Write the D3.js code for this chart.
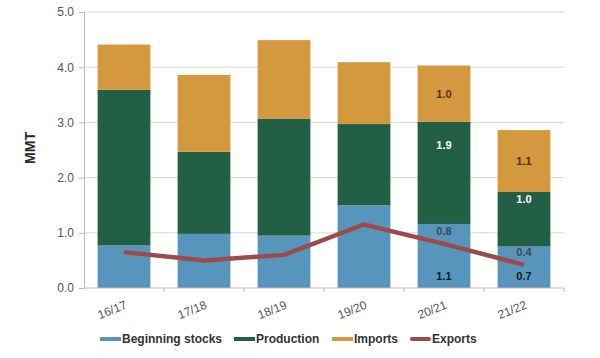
<!DOCTYPE html>
<html><head><meta charset="utf-8">
<script src="https://cdn.jsdelivr.net/npm/d3@7"></script>
<style>body{margin:0;background:#fff}svg{display:block}</style>
</head><body>
<svg id="chart" width="600" height="358"></svg>
<script>
const categories = ["16/17","17/18","18/19","19/20","20/21","21/22"];
const beginningStocks = [0.77, 0.98, 0.95, 1.50, 1.16, 0.75];
const production      = [2.82, 1.49, 2.12, 1.47, 1.85, 0.99];
const imports         = [0.82, 1.39, 1.42, 1.12, 1.02, 1.12];
const exports         = [0.65, 0.50, 0.60, 1.15, 0.80, 0.42];
const beginLabels  = [null, null, null, null, "1.1", "0.7"];
const prodLabels   = [null, null, null, null, "1.9", "1.0"];
const importLabels = [null, null, null, null, "1.0", "1.1"];
const exportLabels = [null, null, null, null, "0.8", "0.4"];
const yTicks = [0, 1, 2, 3, 4, 5];
const seriesNames = ["Beginning stocks", "Production", "Imports", "Exports"];

const colors = {begin:"#5795bd", prod:"#225f45", imp:"#d4983f", exp:"#9c4b4b"};
const svg = d3.select("#chart");
const m = {left:84, right:36, top:12, bottom:70};
const W = 600, H = 358;
const x = d3.scaleBand().domain(categories).range([m.left, W - m.right]).paddingInner(0.34).paddingOuter(0.17);
const y = d3.scaleLinear().domain([0, 5]).range([288, 12]);

// grid
svg.append("g").selectAll("line").data(yTicks.filter(d => d > 0)).join("line")
  .attr("x1", m.left).attr("x2", W - m.right)
  .attr("y1", d => y(d)).attr("y2", d => y(d))
  .attr("stroke", "#d6d6d6").attr("stroke-width", 1);

const rows = categories.map((c, i) => ({cat:c, begin:beginningStocks[i], prod:production[i], imp:imports[i]}));
const stack = d3.stack().keys(["begin","prod","imp"])(rows);
svg.append("g").selectAll("g").data(stack).join("g")
  .attr("fill", s => colors[s.key])
  .selectAll("rect").data(s => s).join("rect")
  .attr("x", d => x(d.data.cat)).attr("width", x.bandwidth())
  .attr("y", d => y(d[1])).attr("height", d => y(d[0]) - y(d[1]));

// axes
const yAxis = svg.append("g").attr("transform", `translate(${m.left},0)`)
  .call(d3.axisLeft(y).tickValues(yTicks).tickFormat(d3.format(".1f")).tickSize(5).tickPadding(5));
yAxis.select(".domain").attr("stroke", "#bbb");
yAxis.selectAll(".tick line").attr("stroke", "#bbb");
yAxis.selectAll("text").attr("fill", "#555").style("font", "12px 'Liberation Sans', Arial, sans-serif");

const bandEdges = categories.map(c => x(c) - x.step() * x.paddingInner() / 2).concat([W - m.right]);
const xg = svg.append("g");
xg.append("line").attr("x1", m.left).attr("x2", W - m.right).attr("y1", 288).attr("y2", 288).attr("stroke", "#bbb");
xg.selectAll("line.t").data(bandEdges.slice(1)).join("line").attr("class","t")
  .attr("x1", d => d).attr("x2", d => d).attr("y1", 288).attr("y2", 292).attr("stroke", "#bbb");
xg.selectAll("text").data(categories).join("text")
  .attr("transform", d => `translate(${x(d) + x.bandwidth()/2 + 2},${304}) rotate(-22)`)
  .attr("text-anchor", "end").attr("dy", "0.35em")
  .attr("fill", "#555").style("font", "12px 'Liberation Sans', Arial, sans-serif")
  .text(d => d);

// export line
const cx = c => x(c) + x.bandwidth() / 2;
svg.append("path").datum(exports)
  .attr("fill", "none").attr("stroke", colors.exp).attr("stroke-width", 4.5)
  .attr("d", d3.line().x((d, i) => cx(categories[i])).y(d => y(d)));

// labels
const lab = svg.append("g").style("font", "bold 11px 'Liberation Sans', Arial, sans-serif").attr("text-anchor", "middle");
const prodDy = [0, 0, 0, 0, 23, 7];
categories.forEach((c, i) => {
  const xc = cx(c);
  if (beginLabels[i]) lab.append("text").attr("x", xc).attr("y", y(0) - 12).attr("dy", "0.35em").attr("fill", "#1a1a1a").text(beginLabels[i]);
  if (exportLabels[i]) lab.append("text").attr("x", xc).attr("y", y(exports[i]) - 13).attr("dy", "0.35em").attr("fill", "#3d4852").text(exportLabels[i]);
  if (prodLabels[i]) lab.append("text").attr("x", xc).attr("y", y(beginningStocks[i] + production[i]) + prodDy[i]).attr("dy", "0.35em").attr("fill", "#fff").text(prodLabels[i]);
  if (importLabels[i]) { const b = beginningStocks[i] + production[i];
    lab.append("text").attr("x", xc).attr("y", (y(b) + y(b + imports[i])) / 2).attr("dy", "0.35em").attr("fill", "#4a3314").text(importLabels[i]); }
});

// y title
svg.append("text").attr("transform", "translate(30,148) rotate(-90)").attr("text-anchor", "middle").attr("dy", "0.35em")
  .attr("fill", "#2a2a2a").style("font", "bold 14px 'Liberation Sans', Arial, sans-serif").text("MMT");

// legend
const legX = [100, 234, 332, 410];
const legCol = [colors.begin, colors.prod, colors.imp, colors.exp];
const lg = svg.append("g");
seriesNames.forEach((n, i) => {
  lg.append("rect").attr("x", legX[i]).attr("y", 337).attr("width", 21).attr("height", 4).attr("fill", legCol[i]).attr("rx", i === 3 ? 2 : 0);
  lg.append("text").attr("x", legX[i] + 22).attr("y", 339).attr("dy", "0.35em")
    .attr("fill", "#333").style("font", "bold 12px 'Liberation Sans', Arial, sans-serif").text(n);
});
</script>
</body></html>
